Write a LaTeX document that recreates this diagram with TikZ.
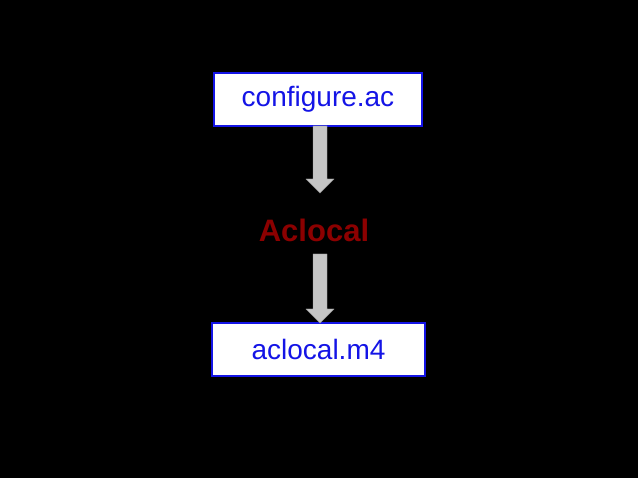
\documentclass[tikz,border=0pt]{standalone}
\usepackage{fontspec}
\setmainfont{Liberation Sans}
\usetikzlibrary{calc}
\definecolor{tblue}{RGB}{20,20,230}
\definecolor{tred}{RGB}{140,0,0}
\tikzset{
  filebox/.style={draw=tblue, line width=1.5pt, fill=white, text=tblue, font=\fontsize{28}{30}\selectfont, inner sep=0pt},
  blockarrow/.style={fill=lightgray!90, draw=gray!80, line width=0.4pt}
}
\begin{document}
\begin{tikzpicture}[x=1pt,y=-1pt]
\fill[black] (0,0) rectangle (638,478);
\useasboundingbox (0,0) rectangle (638,478);
\node[filebox, minimum width=208pt, minimum height=53pt] (cfg) at (318,99.5) {configure.ac};
\node[text=tred, font=\bfseries\fontsize{31}{33}\selectfont] (acl) at (314,230) {Aclocal};
\node[filebox, minimum width=213pt, minimum height=53pt] (m4) at (318.5,349.5) {aclocal.m4};
\coordinate (a1s) at (320,126);
\coordinate (a1t) at (320,193);
\coordinate (a2s) at (320,254);
\coordinate (a2t) at (320,323);
\foreach \s/\t in {a1s/a1t,a2s/a2t}{
  \path[blockarrow] ($(\s)+(-7,0)$) -- ($(\s)+(7,0)$) -- ($(\t)+(7,-14)$) -- ($(\t)+(14,-14)$) -- (\t) -- ($(\t)+(-14,-14)$) -- ($(\t)+(-7,-14)$) -- cycle;
}
\end{tikzpicture}
\end{document}
